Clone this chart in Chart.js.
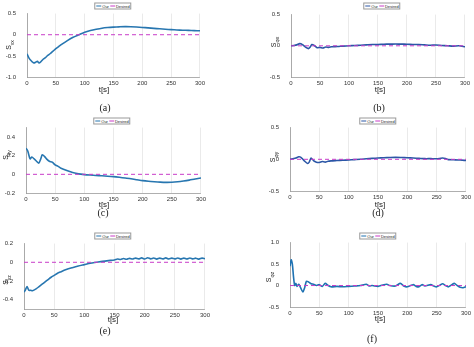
<!DOCTYPE html>
<html>
<head>
<meta charset="utf-8">
<script src="https://cdn.jsdelivr.net/npm/chart.js@4"></script>
<style>
  body { margin: 0; background: #fff; }
  #fig { position: relative; width: 474px; height: 347px; overflow: hidden; font-family: Arial, "Liberation Sans", sans-serif; }
  #fig canvas { position: absolute; }
  .lbl { position: absolute; white-space: nowrap; color: #222; }
  .ytitle { font-size: 7px; transform: translate(-50%, -50%) rotate(-90deg); }
  .ytitle sub { font-size: 5px; }
  .xtitle { font-size: 8px; transform: translate(-50%, -50%); }
  .tag { font-family: "Liberation Serif", "DejaVu Serif", serif; font-size: 10px; transform: translate(-50%, -50%); }
  .legend { font-size: 4px; border: 0.5px solid #999; padding: 0 1px; line-height: 5px; transform: translate(-50%, -50%); background: #fff; }
  .legend i { display: inline-block; width: 5px; height: 0; vertical-align: middle; margin-right: 1px; }
</style>
</head>
<body>
<div id="fig"></div>
<script>
// --- Data ---
const xTicks = [0, 50, 100, 150, 200, 250, 300];
const desiredT = [0, 300];
const desiredY = [0, 0];

// (a) S_vx
const tA = [0, 3, 6, 9, 12, 15, 18, 21, 24, 28, 32, 36, 40, 45, 50, 55, 60, 70, 80, 90, 100, 110, 120, 130, 140, 150, 160, 170, 180, 190, 200, 210, 220, 230, 240, 250, 260, 270, 280, 290, 300];
const yA = [-0.45, -0.54, -0.6, -0.64, -0.67, -0.65, -0.63, -0.67, -0.64, -0.58, -0.54, -0.49, -0.45, -0.39, -0.33, -0.28, -0.23, -0.14, -0.06, 0.0, 0.06, 0.1, 0.13, 0.155, 0.17, 0.18, 0.187, 0.192, 0.19, 0.182, 0.172, 0.162, 0.15, 0.14, 0.13, 0.12, 0.113, 0.107, 0.102, 0.097, 0.093];

// (b) S_phi_x
const tB = [0, 5, 10, 15, 18, 21, 25, 30, 33, 36, 40, 45, 50, 55, 60, 65, 70, 80, 90, 100, 110, 120, 130, 140, 150, 160, 170, 180, 190, 200, 210, 220, 230, 240, 250, 260, 270, 280, 290, 300];
const yB = [0.0, 0.005, 0.015, 0.035, 0.03, 0.01, -0.02, -0.045, -0.02, 0.02, 0.005, -0.03, -0.025, -0.035, -0.02, -0.025, -0.015, -0.012, -0.005, 0.0, 0.005, 0.01, 0.015, 0.02, 0.022, 0.025, 0.027, 0.028, 0.027, 0.025, 0.022, 0.02, 0.015, 0.01, 0.012, 0.005, 0.0, -0.005, 0.0, -0.015];

// (c) S_vy
const tC = [0, 3, 7, 10, 14, 18, 22, 25, 28, 32, 36, 40, 45, 50, 55, 60, 70, 80, 90, 100, 110, 120, 130, 140, 150, 160, 170, 180, 190, 200, 210, 220, 230, 240, 250, 260, 270, 280, 290, 300];
const yC = [0.28, 0.25, 0.165, 0.185, 0.165, 0.14, 0.12, 0.16, 0.21, 0.19, 0.16, 0.14, 0.13, 0.1, 0.085, 0.065, 0.04, 0.02, 0.005, -0.003, -0.008, -0.012, -0.016, -0.02, -0.025, -0.032, -0.04, -0.048, -0.058, -0.068, -0.075, -0.08, -0.084, -0.086, -0.085, -0.08, -0.072, -0.062, -0.05, -0.04];

// (d) S_phi_y
const tD = [0, 5, 10, 15, 18, 21, 25, 30, 33, 36, 40, 45, 50, 55, 60, 65, 70, 80, 90, 100, 110, 120, 130, 140, 150, 160, 170, 180, 190, 200, 210, 220, 230, 240, 250, 260, 265, 270, 280, 290, 300];
const yD = [0.0, 0.01, 0.02, 0.04, 0.035, 0.01, -0.03, -0.065, -0.04, 0.02, -0.02, -0.045, -0.05, -0.035, -0.045, -0.03, -0.025, -0.02, -0.015, -0.01, -0.005, 0.0, 0.008, 0.015, 0.02, 0.025, 0.028, 0.03, 0.028, 0.025, 0.02, 0.015, 0.01, 0.01, 0.008, 0.02, 0.012, -0.005, -0.008, -0.012, -0.02];

// (e) S_vz
const tE = [0, 2, 5, 8, 11, 14, 20, 25, 30, 35, 40, 45, 50, 55, 60, 70, 80, 90, 100, 110, 120, 130, 140, 150, 155, 160, 165, 170, 175, 180, 185, 190, 195, 200, 205, 210, 215, 220, 225, 230, 235, 240, 245, 250, 255, 260, 265, 270, 275, 280, 285, 290, 295, 300];
const yE = [-0.32, -0.3, -0.26, -0.3, -0.3, -0.305, -0.285, -0.26, -0.235, -0.21, -0.185, -0.16, -0.14, -0.12, -0.105, -0.078, -0.058, -0.04, -0.025, -0.01, 0.0, 0.01, 0.018, 0.025, 0.035, 0.03, 0.04, 0.032, 0.042, 0.035, 0.045, 0.036, 0.047, 0.035, 0.048, 0.037, 0.046, 0.034, 0.045, 0.036, 0.047, 0.035, 0.044, 0.036, 0.046, 0.034, 0.045, 0.035, 0.046, 0.036, 0.044, 0.034, 0.045, 0.038];

// (f) S_phi_z
const tF = [0, 2, 4, 6, 8, 10, 12, 15, 18, 22, 25, 28, 32, 36, 40, 45, 50, 55, 60, 65, 70, 80, 90, 100, 110, 120, 130, 135, 140, 150, 160, 165, 170, 180, 188, 195, 200, 210, 215, 220, 225, 230, 240, 245, 250, 260, 265, 270, 280, 285, 290, 295, 300];
const yF = [0.45, 0.6, 0.5, 0.2, 0.0, 0.05, -0.02, 0.03, -0.05, -0.15, -0.05, 0.1, 0.08, 0.04, 0.03, 0.0, 0.02, -0.02, 0.05, 0.0, -0.03, -0.02, -0.03, -0.02, -0.01, 0.0, 0.03, -0.01, 0.0, -0.02, 0.02, 0.03, 0.0, -0.01, 0.05, -0.02, -0.03, 0.02, -0.02, -0.03, 0.02, -0.01, 0.02, -0.01, -0.03, 0.04, 0.0, -0.03, 0.05, 0.0, -0.04, -0.05, -0.03];

const yTicksA = [-1, -0.5, 0, 0.5];
const yTicksB = [-0.5, 0, 0.5];
const yTicksC = [-0.2, 0, 0.2, 0.4];
const yTicksE = [-0.4, -0.2, 0, 0.2];
const yTicksF = [-0.5, 0, 0.5, 1];

// --- Panel layout (plot area in page pixels) ---
const panels = [
  { t: tA, y: yA, ticks: yTicksA, min: -1, max: 0.5, sub: 'vx', tag: '(a)', L: 27, R: 200, T: 11, B: 77, color: '#2776b0', lg: 113, ly: 6, yt: [10, 45], xt: [104, 89], tg: [105, 107] },
  { t: tB, y: yB, ticks: yTicksB, min: -0.5, max: 0.5, sub: 'φx', tag: '(b)', L: 291, R: 465, T: 12, B: 77, color: '#2b56a6', lg: 382, ly: 6, yt: [275, 42], xt: [380, 89], tg: [379, 107] },
  { t: tC, y: yC, ticks: yTicksC, min: -0.2, max: 0.5, sub: 'vy', tag: '(c)', L: 26, R: 201, T: 125, B: 193, color: '#2776b0', lg: 112, ly: 121, yt: [7, 155], xt: [104, 204], tg: [103, 212] },
  { t: tD, y: yD, ticks: yTicksB, min: -0.5, max: 0.5, sub: 'φy', tag: '(d)', L: 290, R: 466, T: 125, B: 191, color: '#2b56a6', lg: 378, ly: 121, yt: [274, 157], xt: [380, 204], tg: [378, 212] },
  { t: tE, y: yE, ticks: yTicksE, min: -0.5, max: 0.2, sub: 'vz', tag: '(e)', L: 24, R: 205, T: 241, B: 309, color: '#2776b0', lg: 113, ly: 236, yt: [7, 280], xt: [113, 319], tg: [105, 330] },
  { t: tF, y: yF, ticks: yTicksF, min: -0.5, max: 1, sub: 'φz', tag: '(f)', L: 290, R: 466, T: 240, B: 307, color: '#1f72b2', lg: 378, ly: 236, yt: [270, 277], xt: [380, 318], tg: [372, 338] }
];

const fig = document.getElementById('fig');
const Y_W = 22, X_H = 12, PAD_T = 4, PAD_R = 8;

function addLabel(cls, html, x, y) {
  const d = document.createElement('div');
  d.className = 'lbl ' + cls;
  d.innerHTML = html;
  d.style.left = x + 'px';
  d.style.top = y + 'px';
  fig.appendChild(d);
}

panels.forEach(p => {
  const canvas = document.createElement('canvas');
  const w = (p.R - p.L) + Y_W + PAD_R;
  const h = (p.B - p.T) + PAD_T + X_H;
  canvas.style.left = (p.L - Y_W) + 'px';
  canvas.style.top = (p.T - PAD_T) + 'px';
  canvas.style.width = w + 'px';
  canvas.style.height = h + 'px';
  canvas.width = w;
  canvas.height = h;
  fig.appendChild(canvas);

  new Chart(canvas.getContext('2d'), {
    type: 'line',
    data: {
      datasets: [
        {
          label: 'Desired',
          data: desiredT.map((t, i) => ({ x: t, y: desiredY[i] })),
          borderColor: '#c83cc8',
          borderWidth: 1,
          borderDash: [4, 3],
          pointRadius: 0,
          order: 0
        },
        {
          label: 'Our',
          data: p.t.map((t, i) => ({ x: t, y: p.y[i] })),
          borderColor: p.color,
          borderWidth: 1.6,
          pointRadius: 0,
          tension: 0.25,
          order: 1
        }
      ]
    },
    options: {
      responsive: false,
      animation: false,
      layout: { padding: { top: PAD_T, right: PAD_R, left: 0, bottom: 0 } },
      plugins: { legend: { display: false }, tooltip: { enabled: false } },
      scales: {
        x: {
          type: 'linear', min: 0, max: 300,
          afterBuildTicks: s => { s.ticks = xTicks.map(v => ({ value: v })); },
          afterFit: s => { s.height = X_H; },
          grid: { color: '#e4e4e4', lineWidth: 0.8, drawTicks: false },
          border: { color: '#9a9a9a', width: 0.8 },
          ticks: { color: '#333', font: { size: 6, family: 'Arial' }, padding: 3, maxRotation: 0 }
        },
        y: {
          min: p.min, max: p.max,
          afterBuildTicks: s => { s.ticks = p.ticks.map(v => ({ value: v })); },
          afterFit: s => { s.width = Y_W; },
          grid: { display: false },
          border: { color: '#9a9a9a', width: 0.8 },
          ticks: { color: '#333', font: { size: 6, family: 'Arial' }, padding: 3 }
        }
      }
    }
  });

  addLabel('ytitle', 'S<sub>' + p.sub + '</sub>', p.yt[0], p.yt[1]);
  addLabel('xtitle', 't[s]', p.xt[0], p.xt[1]);
  addLabel('tag', p.tag, p.tg[0], p.tg[1]);
  addLabel('legend', '<i style="border-top:1px solid ' + p.color + '"></i>Our<i style="border-top:1px dashed #c83cc8;margin-left:1px"></i>Desired', p.lg, p.ly);
});
</script>
</body>
</html>
